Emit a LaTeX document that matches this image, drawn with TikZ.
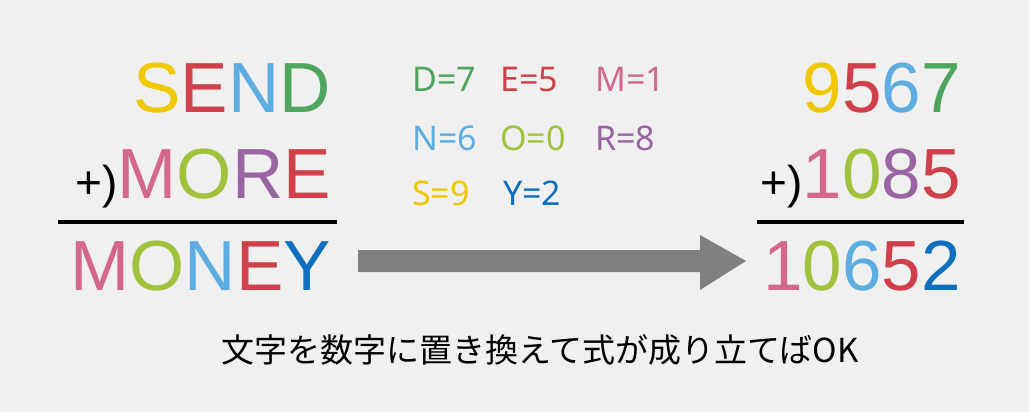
\documentclass[tikz,border=0pt]{standalone}
\usepackage{fontspec}
\setmainfont{Liberation Sans}
\newfontfamily\midf{Noto Sans}
\newfontfamily\cjk{Noto Sans CJK JP}
\definecolor{cy}{HTML}{F0C800}
\definecolor{cr}{HTML}{D0404A}
\definecolor{cb}{HTML}{5DADE2}
\definecolor{cg}{HTML}{4EA65E}
\definecolor{cp}{HTML}{D3688A}
\definecolor{cl}{HTML}{A2C23E}
\definecolor{cv}{HTML}{9A64A2}
\definecolor{cd}{HTML}{0E6FC0}
\newcommand{\pl}{\textcolor{black}{\fontsize{46}{46}\selectfont+)}}
\tikzset{big/.style={font=\fontsize{71}{71}\selectfont,inner sep=0,anchor=base east},
 mid/.style={font=\midf\fontsize{34}{34}\selectfont,inner sep=0,anchor=base west},
 rule/.style={line width=3.5pt}}
\begin{document}
\begin{tikzpicture}[x=1pt,y=-1pt]
\fill[gray!12] (0,0) rectangle (1029,412);
\useasboundingbox (0,0) rectangle (1029,412);
\node[big] (send) at (331,113) {\textcolor{cy}{S}\textcolor{cr}{E}\textcolor{cb}{N}\textcolor{cg}{D}};
\node[big] (more) at (331,198) {\pl\textcolor{cp}{M}\textcolor{cl}{O}\textcolor{cv}{R}\textcolor{cr}{E}};
\node[big] (money) at (331,290) {\textcolor{cp}{M}\textcolor{cl}{O}\textcolor{cb}{N}\textcolor{cr}{E}\textcolor{cd}{Y}};
\coordinate (l1) at (58,222); \coordinate (l2) at (337,222);
\draw[rule] (l1) -- (l2);
\node[big] (n1) at (961,113) {\textcolor{cy}{9}\textcolor{cr}{5}\textcolor{cb}{6}\textcolor{cg}{7}};
\node[big] (n2) at (961,198) {\pl\textcolor{cp}{1}\textcolor{cl}{0}\textcolor{cv}{8}\textcolor{cr}{5}};
\node[big] (n3) at (961,290) {\textcolor{cp}{1}\textcolor{cl}{0}\textcolor{cb}{6}\textcolor{cr}{5}\textcolor{cd}{2}};
\coordinate (r1) at (757,222); \coordinate (r2) at (964,222);
\draw[rule] (r1) -- (r2);
\node[mid,text=cg] (d) at (412,92) {D=7};
\node[mid,text=cr] (e) at (500,92) {E=5};
\node[mid,text=cp] (m) at (595,92) {M=1};
\node[mid,text=cb] (n) at (412,150) {N=6};
\node[mid,text=cl] (o) at (500,150) {O=0};
\node[mid,text=cv] (r) at (595,150) {R=8};
\node[mid,text=cy] (s) at (412,205) {S=9};
\node[mid,text=cd] (y) at (503,205) {Y=2};
\fill[gray] (358,250) -- (700,250) -- (700,235) -- (746,261) -- (700,290) -- (700,272) -- (358,272) -- cycle;
\node[font=\cjk\fontsize{33}{33}\selectfont,inner sep=0] (cap) at (540,350) {文字を数字に置き換えて式が成り立てばOK};
\end{tikzpicture}
\end{document}
